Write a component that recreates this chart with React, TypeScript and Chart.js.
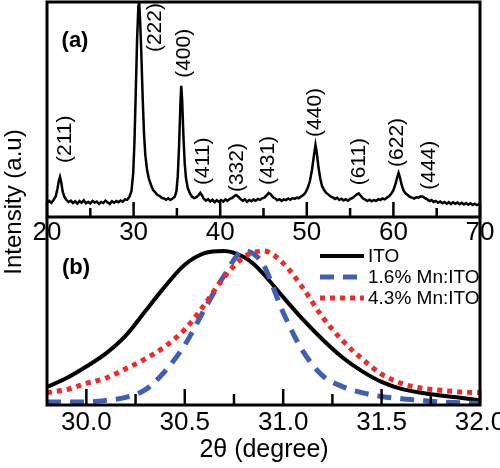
import React, { useEffect, useRef } from "react";
import { Chart, registerables } from "chart.js";

Chart.register(...registerables);

const FONT = "'Liberation Sans', Arial, Helvetica, sans-serif";

// ---------- Panel (a): full XRD pattern, 2θ (deg) vs intensity (a.u.) ----------
const xrdPattern: [number, number][] = [
  [20.0, 6.8], [20.25, 7.5], [20.5, 6.6], [20.75, 7.9], [21.0, 9.5], [21.2, 13], [21.35, 16.5],
  [21.5, 18.6], [21.65, 16], [21.8, 12], [22.0, 9.4], [22.25, 7.8], [22.5, 7.0], [22.75, 7.6],
  [23.0, 6.5], [23.25, 7.3], [23.5, 6.2], [23.75, 7.4], [24.0, 6.6], [24.25, 7.8], [24.5, 6.4],
  [24.75, 7.1], [25.0, 6.3], [25.25, 7.5], [25.5, 6.7], [25.75, 7.2], [26.0, 6.1], [26.25, 7.0],
  [26.5, 6.5], [26.75, 7.6], [27.0, 6.8], [27.25, 6.0], [27.5, 7.3], [27.75, 6.6], [28.0, 7.4],
  [28.25, 6.9], [28.5, 7.7], [28.75, 7.1], [29.0, 8.2], [29.25, 8.0], [29.5, 9.2], [29.75, 12],
  [29.95, 20], [30.1, 35], [30.25, 58], [30.4, 82], [30.55, 98], [30.65, 99.5], [30.75, 92],
  [30.9, 75], [31.05, 55], [31.2, 39], [31.35, 29], [31.55, 22], [31.75, 18], [32.0, 15],
  [32.25, 12.5], [32.5, 11.5], [32.75, 10.2], [33.0, 9.8], [33.25, 8.9], [33.5, 8.6], [33.75, 8.0],
  [34.0, 8.7], [34.25, 7.9], [34.5, 8.6], [34.75, 9.4], [34.95, 12], [35.1, 19], [35.25, 33],
  [35.4, 52], [35.5, 61], [35.6, 55], [35.75, 38], [35.9, 25], [36.05, 18], [36.25, 13.5],
  [36.5, 11], [36.75, 9.4], [37.0, 8.8], [37.25, 9.2], [37.5, 10.2], [37.7, 11.2], [37.9, 10],
  [38.1, 8.5], [38.35, 7.6], [38.6, 8.3], [38.85, 7.2], [39.1, 8.0], [39.35, 6.9], [39.6, 7.8],
  [39.85, 7.0], [40.1, 7.9], [40.35, 7.2], [40.6, 8.2], [40.85, 7.5], [41.1, 8.4], [41.35, 8.8],
  [41.6, 9.6], [41.85, 10.2], [42.1, 9.4], [42.35, 8.3], [42.6, 7.6], [42.85, 8.2], [43.1, 7.1],
  [43.35, 7.9], [43.6, 7.3], [43.85, 8.1], [44.1, 7.6], [44.35, 8.4], [44.6, 8.0], [44.85, 8.7],
  [45.1, 9.0], [45.35, 10.1], [45.6, 11.2], [45.85, 10.5], [46.1, 9.2], [46.35, 8.6], [46.6, 7.8],
  [46.85, 8.3], [47.1, 7.5], [47.35, 8.2], [47.6, 7.9], [47.85, 8.6], [48.1, 8.0], [48.35, 8.8],
  [48.6, 8.4], [48.85, 9.0], [49.1, 8.8], [49.35, 9.6], [49.6, 10.2], [49.85, 11.4], [50.1, 13.5],
  [50.35, 16.5], [50.6, 22], [50.8, 28], [51.0, 33.5], [51.15, 30], [51.35, 23], [51.55, 18],
  [51.75, 14.5], [52.0, 12.5], [52.25, 11.2], [52.5, 10.4], [52.75, 9.6], [53.0, 9.2], [53.25, 8.4],
  [53.5, 8.9], [53.75, 7.9], [54.0, 8.5], [54.25, 7.7], [54.5, 8.3], [54.75, 7.6], [55.0, 8.4],
  [55.25, 8.8], [55.5, 9.6], [55.75, 10.4], [56.0, 11], [56.25, 9.8], [56.5, 8.6], [56.75, 8.1],
  [57.0, 7.4], [57.25, 8.0], [57.5, 7.3], [57.75, 7.9], [58.0, 7.5], [58.25, 8.3], [58.5, 7.9],
  [58.75, 8.6], [59.0, 8.2], [59.25, 9.0], [59.5, 9.6], [59.75, 10.8], [60.0, 12.5], [60.25, 15.5],
  [60.45, 18.5], [60.6, 20.5], [60.75, 18.5], [60.95, 15], [61.15, 12.5], [61.4, 11], [61.65, 10.2],
  [61.9, 9.4], [62.15, 9.0], [62.4, 8.6], [62.65, 9.2], [62.9, 9.0], [63.15, 9.6], [63.4, 9.4],
  [63.65, 8.8], [63.9, 8.2], [64.15, 7.4], [64.4, 7.9], [64.65, 7.0], [64.9, 7.5], [65.15, 6.6],
  [65.4, 7.2], [65.65, 6.4], [65.9, 7.0], [66.15, 6.2], [66.4, 6.9], [66.65, 6.0], [66.9, 6.8],
  [67.15, 6.1], [67.4, 6.7], [67.65, 5.9], [67.9, 6.6], [68.15, 5.8], [68.4, 6.5], [68.65, 5.7],
  [68.9, 6.4], [69.15, 5.6], [69.4, 6.2], [69.65, 5.5], [69.9, 6.0], [70.0, 5.6],
];

const peakHkl = ["(211)", "(222)", "(400)", "(411)", "(332)", "(431)", "(440)", "(611)", "(622)", "(444)"];
const peakAngle = [21.5, 30.65, 35.5, 37.7, 41.85, 45.6, 51.0, 56.0, 60.6, 63.5];
const peakHeight = [18.6, 99.5, 61, 11.2, 10.2, 11.2, 33.5, 11, 20.5, 9.4];
const panelATicks = [20, 30, 40, 50, 60, 70];

// ---------- Panel (b): zoom on the (222) reflection, normalised ----------
const zoomTwoTheta = [
  29.8, 29.9, 30.0, 30.1, 30.2, 30.3, 30.4, 30.5, 30.6, 30.7, 30.8, 30.85, 30.9, 31.0,
  31.1, 31.2, 31.3, 31.4, 31.5, 31.6, 31.7, 31.8, 31.9, 32.0,
];
const itoCurve = [
  0.117, 0.175, 0.25, 0.335, 0.45, 0.61, 0.77, 0.91, 0.985, 1.0, 0.96, 0.915, 0.85, 0.70,
  0.555, 0.425, 0.31, 0.22, 0.15, 0.105, 0.08, 0.062, 0.047, 0.03,
];
const mn16Curve = [
  0.02, 0.02, 0.02, 0.03, 0.05, 0.10, 0.22, 0.39, 0.62, 0.84, 1.0, 0.98, 0.91, 0.60,
  0.35, 0.19, 0.12, 0.08, 0.055, 0.04, 0.03, 0.02, 0.015, 0.01,
];
const mn43Curve = [
  0.08, 0.10, 0.14, 0.175, 0.235, 0.30, 0.38, 0.49, 0.65, 0.83, 0.96, 0.99, 1.0, 0.92,
  0.76, 0.57, 0.42, 0.30, 0.20, 0.14, 0.11, 0.095, 0.085, 0.08,
];
const seriesNames = ["ITO", "1.6% Mn:ITO", "4.3% Mn:ITO"];
const panelBMajorTicks = [30.0, 30.5, 31.0, 31.5, 32.0];
const panelBMinorTicks = [30.25, 30.75, 31.25, 31.75];

// styling
const labelDx = [5, 16, 3, 3, 1, 0, 0, 0, -1, 5];
const labelGap = [14, -49, 8, 8, 3, 8, 8, 8, 6, 7];

function zeroPad(scale: any) {
  scale.paddingLeft = 0;
  scale.paddingRight = 0;
}

export default function App() {
  const refA = useRef<HTMLCanvasElement>(null);
  const refB = useRef<HTMLCanvasElement>(null);

  useEffect(() => {
    const panelAPlugin = {
      id: "panelA",
      afterDraw(chart: any) {
        const { ctx, chartArea: a, scales } = chart;
        const x = scales.x;
        const y = scales.y;
        ctx.save();
        ctx.strokeStyle = "#000";
        ctx.fillStyle = "#000";
        ctx.lineWidth = 3;
        ctx.strokeRect(a.left, a.top, a.right - a.left, a.bottom - a.top);
        ctx.lineWidth = 2.5;
        for (let i = 0; i < panelATicks.length; i++) {
          const v = panelATicks[i];
          const px = x.getPixelForValue(v);
          ctx.beginPath();
          ctx.moveTo(px, a.bottom);
          ctx.lineTo(px, a.bottom - 15);
          ctx.stroke();
          if (i < panelATicks.length - 1) {
            const pm = x.getPixelForValue(v + 5);
            ctx.beginPath();
            ctx.moveTo(pm, a.bottom);
            ctx.lineTo(pm, a.bottom - 9);
            ctx.stroke();
          }
        }
        ctx.font = `21px ${FONT}`;
        ctx.textAlign = "left";
        ctx.textBaseline = "middle";
        peakHkl.forEach((lab, i) => {
          const px = x.getPixelForValue(peakAngle[i]) + labelDx[i];
          const py = y.getPixelForValue(peakHeight[i]) - labelGap[i];
          ctx.save();
          ctx.translate(px, py);
          ctx.rotate(-Math.PI / 2);
          ctx.fillText(lab, 0, 0);
          ctx.restore();
        });
        ctx.font = `bold 22px ${FONT}`;
        ctx.textAlign = "center";
        ctx.fillText("(a)", a.left + 28, a.top + 39);
        ctx.restore();
      },
    };

    const panelBPlugin = {
      id: "panelB",
      afterDraw(chart: any) {
        const { ctx, chartArea: a, scales } = chart;
        const x = scales.x;
        ctx.save();
        ctx.strokeStyle = "#000";
        ctx.fillStyle = "#000";
        ctx.lineWidth = 3;
        ctx.beginPath();
        ctx.moveTo(a.left, a.top);
        ctx.lineTo(a.left, a.bottom);
        ctx.lineTo(a.right, a.bottom);
        ctx.lineTo(a.right, a.top);
        ctx.stroke();
        ctx.lineWidth = 2.5;
        panelBMajorTicks.forEach((v) => {
          const px = x.getPixelForValue(v);
          ctx.beginPath();
          ctx.moveTo(px, a.bottom);
          ctx.lineTo(px, a.bottom - 16);
          ctx.stroke();
        });
        panelBMinorTicks.forEach((v) => {
          const px = x.getPixelForValue(v);
          ctx.beginPath();
          ctx.moveTo(px, a.bottom);
          ctx.lineTo(px, a.bottom - 11);
          ctx.stroke();
        });

        // legend
        const ds = chart.data.datasets;
        ctx.font = `19px ${FONT}`;
        ctx.textAlign = "left";
        ctx.textBaseline = "middle";
        const lx0 = a.left + 273;
        const ly0 = a.top + 39;
        ds.forEach((d: any, i: number) => {
          const yy = ly0 + i * 21;
          ctx.save();
          ctx.strokeStyle = d.borderColor;
          ctx.lineWidth = d.borderWidth;
          ctx.setLineDash(d.borderDash || []);
          ctx.lineCap = "butt";
          ctx.beginPath();
          ctx.moveTo(lx0, yy);
          ctx.lineTo(lx0 + 44, yy);
          ctx.stroke();
          ctx.restore();
          ctx.fillText(d.label, lx0 + 48, yy + 1);
        });

        ctx.font = `bold 22px ${FONT}`;
        ctx.textAlign = "center";
        ctx.fillText("(b)", a.left + 29, a.top + 51);

        ctx.font = `25px ${FONT}`;
        ctx.fillText("2\u03B8 (degree)", 264, 450);

        ctx.save();
        ctx.translate(14, 202);
        ctx.rotate(-Math.PI / 2);
        ctx.font = `24px ${FONT}`;
        ctx.fillText("Intensity (a.u)", 0, 0);
        ctx.restore();
        ctx.restore();
      },
    };

    const chartA = new Chart(refA.current as HTMLCanvasElement, {
      type: "line",
      data: {
        datasets: [
          {
            data: xrdPattern.map(([t, v]) => ({ x: t, y: v })),
            borderColor: "#000",
            borderWidth: 2.5,
            pointRadius: 0,
            tension: 0,
            fill: false,
          },
        ],
      },
      options: {
        responsive: false,
        animation: false,
        layout: { padding: { left: 47, right: 20, top: 2, bottom: 0 } },
        plugins: { legend: { display: false }, tooltip: { enabled: false } },
        scales: {
          x: {
            type: "linear",
            min: 20,
            max: 70,
            grid: { display: false, drawTicks: false },
            border: { display: false },
            ticks: {
              stepSize: 10,
              padding: 0,
              color: "#000",
              font: { family: FONT, size: 26 },
              maxRotation: 0,
            },
            afterFit: (s: any) => {
              s.height = 43;
              zeroPad(s);
            },
          },
          y: { display: false, min: 0, max: 100 },
        },
      },
      plugins: [panelAPlugin],
    } as any);

    const mk = (
      label: string,
      values: number[],
      color: string,
      width: number,
      dash: number[],
      order: number
    ) => ({
      label,
      data: zoomTwoTheta.map((t, i) => ({ x: t, y: values[i] })),
      borderColor: color,
      borderWidth: width,
      borderDash: dash,
      borderCapStyle: "butt",
      pointRadius: 0,
      cubicInterpolationMode: "monotone",
      fill: false,
      order,
    });

    const chartB = new Chart(refB.current as HTMLCanvasElement, {
      type: "line",
      data: {
        datasets: [
          mk(seriesNames[0], itoCurve, "#000000", 4, [], 3),
          mk(seriesNames[1], mn16Curve, "#3f5fb4", 5, [14, 9], 2),
          mk(seriesNames[2], mn43Curve, "#ee2a2a", 5, [5, 5], 1),
        ],
      },
      options: {
        responsive: false,
        animation: false,
        layout: { padding: { left: 47, right: 20, top: 217, bottom: 0 } },
        plugins: { legend: { display: false }, tooltip: { enabled: false } },
        scales: {
          x: {
            type: "linear",
            min: 29.8,
            max: 32.0,
            grid: { display: false, drawTicks: false },
            border: { display: false },
            ticks: {
              stepSize: 0.5,
              includeBounds: false,
              padding: 2,
              color: "#000",
              font: { family: FONT, size: 26 },
              maxRotation: 0,
              callback: (v: any) => Number(v).toFixed(1),
            },
            afterFit: (s: any) => {
              s.height = 63;
              zeroPad(s);
            },
          },
          y: { display: false, min: 0, max: 1.22 },
        },
      },
      plugins: [panelBPlugin],
    } as any);

    return () => {
      chartA.destroy();
      chartB.destroy();
    };
  }, []);

  return (
    <div
      style={{
        position: "fixed",
        left: 0,
        top: 0,
        width: 500,
        height: 468,
        background: "#fff",
        overflow: "hidden",
      }}
    >
      <canvas
        ref={refB}
        width={500}
        height={468}
        style={{ position: "absolute", left: 0, top: 0, width: 500, height: 468 }}
      />
      <canvas
        ref={refA}
        width={500}
        height={260}
        style={{ position: "absolute", left: 0, top: 0, width: 500, height: 260 }}
      />
    </div>
  );
}
